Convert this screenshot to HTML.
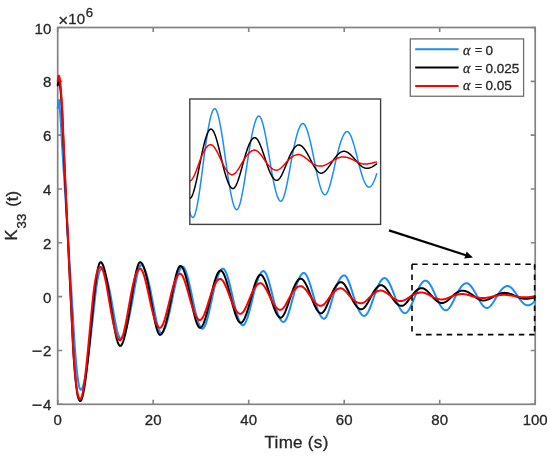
<!DOCTYPE html>
<html><head><meta charset="utf-8"><style>
html,body{margin:0;padding:0;background:#fff;}
body{width:550px;height:461px;overflow:hidden;}
svg{display:block;}
svg{font-family:"Liberation Sans",sans-serif;} text{fill:#262626;stroke:#262626;stroke-width:0.3px;}
</style></head><body>
<svg width="550" height="461" viewBox="0 0 550 461">
<rect width="550" height="461" fill="#fff"/>
<defs><clipPath id="cm"><rect x="56.2" y="27.5" width="480.50000000000006" height="376.8"/></clipPath>
<clipPath id="ci"><rect x="189.8" y="99.0" width="190.8" height="125.4"/></clipPath></defs>
<g fill="none" stroke="#838383" stroke-width="1.7">
<rect x="57.7" y="27.5" width="477.50000000000006" height="376.8"/>
<path d="M57.70,404.30V399.80M57.70,27.50V32.00M153.20,404.30V399.80M153.20,27.50V32.00M248.70,404.30V399.80M248.70,27.50V32.00M344.20,404.30V399.80M344.20,27.50V32.00M439.70,404.30V399.80M439.70,27.50V32.00M535.20,404.30V399.80M535.20,27.50V32.00M57.70,404.30H62.20M535.20,404.30H530.70M57.70,350.47H62.20M535.20,350.47H530.70M57.70,296.64H62.20M535.20,296.64H530.70M57.70,242.81H62.20M535.20,242.81H530.70M57.70,188.99H62.20M535.20,188.99H530.70M57.70,135.16H62.20M535.20,135.16H530.70M57.70,81.33H62.20M535.20,81.33H530.70M57.70,27.50H62.20M535.20,27.50H530.70" stroke-width="1.6"/>
</g>
<g fill="none" stroke-width="2" stroke-linejoin="round" stroke-linecap="round" clip-path="url(#cm)"><path d="M57.70,108.24 L57.90,106.45 L58.10,104.74 L58.29,103.21 L58.49,101.93 L58.69,100.97 L58.89,100.37 L59.08,100.17 L59.45,104.18 L59.82,108.64 L60.19,113.51 L60.56,118.72 L60.93,124.36 L61.29,130.81 L61.66,137.61 L62.03,144.18 L62.40,150.27 L62.77,156.20 L63.14,162.01 L63.50,167.73 L63.87,173.40 L64.24,179.03 L64.61,184.66 L64.98,190.31 L65.34,196.03 L65.71,201.83 L66.08,207.69 L66.45,213.58 L66.82,219.49 L67.19,225.42 L67.55,231.35 L67.92,237.26 L68.29,243.15 L68.66,249.01 L69.03,254.81 L69.40,260.57 L69.76,266.29 L70.13,271.98 L70.50,277.65 L70.87,283.34 L71.24,289.04 L71.60,294.77 L71.97,300.56 L72.34,306.45 L72.71,312.61 L73.08,318.93 L73.45,325.28 L73.81,331.52 L74.18,337.53 L74.55,343.18 L74.92,348.32 L75.29,353.03 L75.66,357.58 L76.02,361.94 L76.39,366.05 L76.76,369.85 L77.13,373.29 L77.50,376.32 L77.87,379.03 L78.23,381.59 L78.60,383.87 L78.97,385.72 L79.34,387.01 L79.71,388.02 L80.07,388.89 L80.44,389.52 L80.81,389.77 L81.53,389.39 L82.25,388.29 L82.97,386.52 L83.69,384.12 L84.41,381.13 L85.13,377.60 L85.85,373.57 L86.57,369.09 L87.29,364.21 L88.01,358.97 L88.72,353.41 L89.44,347.58 L90.16,341.53 L90.88,335.30 L91.60,328.93 L92.32,322.47 L93.04,315.97 L93.76,309.47 L94.48,303.01 L95.20,296.64 L95.49,294.13 L95.79,291.72 L96.08,289.41 L96.37,287.22 L96.66,285.13 L96.96,283.17 L97.25,281.32 L97.54,279.59 L97.84,277.98 L98.13,276.50 L98.42,275.15 L98.71,273.93 L99.01,272.84 L99.30,271.89 L99.59,271.07 L99.89,270.40 L100.18,269.88 L100.47,269.50 L100.76,269.27 L101.06,269.19 L101.54,269.26 L102.03,269.47 L102.52,269.82 L103.01,270.32 L103.49,270.95 L103.98,271.72 L104.47,272.62 L104.95,273.67 L105.44,274.85 L105.93,276.16 L106.42,277.62 L106.90,279.20 L107.39,280.92 L107.88,282.77 L108.36,284.76 L108.85,286.87 L109.34,289.12 L109.83,291.50 L110.31,294.01 L110.80,296.64 L111.29,299.41 L111.78,302.23 L112.28,305.09 L112.77,307.96 L113.26,310.83 L113.75,313.67 L114.24,316.46 L114.73,319.18 L115.23,321.81 L115.72,324.32 L116.21,326.69 L116.70,328.91 L117.19,330.95 L117.68,332.78 L118.18,334.40 L118.67,335.77 L119.16,336.87 L119.65,337.68 L120.14,338.19 L120.63,338.36 L121.26,338.23 L121.88,337.83 L122.50,337.19 L123.13,336.30 L123.75,335.18 L124.37,333.84 L125.00,332.28 L125.62,330.51 L126.24,328.55 L126.87,326.40 L127.49,324.08 L128.11,321.58 L128.74,318.93 L129.36,316.12 L129.98,313.17 L130.61,310.10 L131.23,306.89 L131.85,303.58 L132.48,300.16 L133.10,296.64 L133.50,294.35 L133.90,292.05 L134.30,289.77 L134.70,287.50 L135.10,285.28 L135.51,283.11 L135.91,281.00 L136.31,278.96 L136.71,277.02 L137.11,275.17 L137.51,273.44 L137.91,271.84 L138.31,270.38 L138.71,269.07 L139.11,267.93 L139.52,266.96 L139.92,266.19 L140.32,265.62 L140.72,265.27 L141.12,265.15 L141.65,265.25 L142.18,265.53 L142.71,266.00 L143.24,266.64 L143.76,267.45 L144.29,268.43 L144.82,269.57 L145.35,270.86 L145.88,272.31 L146.41,273.90 L146.94,275.63 L147.47,277.50 L148.00,279.49 L148.53,281.61 L149.05,283.85 L149.58,286.20 L150.11,288.66 L150.64,291.23 L151.17,293.89 L151.70,296.64 L152.18,299.21 L152.67,301.80 L153.15,304.39 L153.63,306.97 L154.12,309.51 L154.60,312.01 L155.08,314.44 L155.57,316.80 L156.05,319.05 L156.53,321.20 L157.02,323.22 L157.50,325.10 L157.98,326.81 L158.47,328.35 L158.95,329.70 L159.43,330.83 L159.92,331.75 L160.40,332.42 L160.88,332.84 L161.37,332.98 L161.94,332.85 L162.51,332.47 L163.08,331.85 L163.65,331.00 L164.22,329.94 L164.80,328.67 L165.37,327.22 L165.94,325.59 L166.51,323.79 L167.08,321.85 L167.65,319.76 L168.23,317.54 L168.80,315.20 L169.37,312.76 L169.94,310.23 L170.51,307.63 L171.08,304.95 L171.66,302.22 L172.23,299.45 L172.80,296.64 L173.28,294.28 L173.77,291.95 L174.25,289.67 L174.73,287.44 L175.22,285.28 L175.70,283.19 L176.18,281.19 L176.67,279.27 L177.15,277.46 L177.64,275.76 L178.12,274.17 L178.60,272.71 L179.09,271.40 L179.57,270.22 L180.05,269.20 L180.54,268.35 L181.02,267.67 L181.50,267.18 L181.99,266.87 L182.47,266.77 L182.95,266.87 L183.43,267.18 L183.92,267.69 L184.40,268.38 L184.88,269.24 L185.36,270.27 L185.84,271.46 L186.32,272.79 L186.80,274.26 L187.29,275.85 L187.77,277.57 L188.25,279.39 L188.73,281.30 L189.21,283.31 L189.69,285.39 L190.17,287.55 L190.66,289.76 L191.14,292.02 L191.62,294.31 L192.10,296.64 L192.62,299.15 L193.14,301.63 L193.66,304.06 L194.18,306.43 L194.69,308.74 L195.21,310.98 L195.73,313.13 L196.25,315.18 L196.77,317.13 L197.29,318.96 L197.81,320.67 L198.33,322.24 L198.85,323.66 L199.36,324.93 L199.88,326.03 L200.40,326.95 L200.92,327.69 L201.44,328.23 L201.96,328.56 L202.48,328.67 L202.97,328.55 L203.47,328.19 L203.97,327.60 L204.46,326.81 L204.96,325.82 L205.45,324.65 L205.95,323.31 L206.45,321.81 L206.94,320.17 L207.44,318.41 L207.94,316.52 L208.43,314.54 L208.93,312.47 L209.42,310.32 L209.92,308.12 L210.42,305.86 L210.91,303.57 L211.41,301.27 L211.90,298.95 L212.40,296.64 L212.92,294.25 L213.45,291.93 L213.97,289.68 L214.49,287.52 L215.02,285.45 L215.54,283.46 L216.06,281.58 L216.59,279.80 L217.11,278.13 L217.63,276.58 L218.16,275.15 L218.68,273.85 L219.20,272.67 L219.73,271.64 L220.25,270.75 L220.77,270.01 L221.30,269.42 L221.82,269.00 L222.34,268.74 L222.87,268.65 L223.35,268.75 L223.84,269.05 L224.33,269.53 L224.81,270.18 L225.30,271.00 L225.79,271.98 L226.27,273.10 L226.76,274.36 L227.25,275.74 L227.73,277.25 L228.22,278.86 L228.71,280.57 L229.19,282.37 L229.68,284.25 L230.17,286.19 L230.65,288.20 L231.14,290.26 L231.63,292.36 L232.11,294.49 L232.60,296.64 L233.11,298.91 L233.63,301.14 L234.14,303.32 L234.65,305.45 L235.17,307.52 L235.68,309.51 L236.20,311.43 L236.71,313.25 L237.22,314.98 L237.74,316.61 L238.25,318.12 L238.76,319.51 L239.28,320.77 L239.79,321.88 L240.31,322.85 L240.82,323.66 L241.33,324.31 L241.85,324.78 L242.36,325.07 L242.87,325.17 L243.38,325.06 L243.89,324.75 L244.39,324.24 L244.90,323.55 L245.41,322.68 L245.91,321.65 L246.42,320.47 L246.92,319.16 L247.43,317.71 L247.94,316.15 L248.44,314.48 L248.95,312.73 L249.46,310.88 L249.96,308.97 L250.47,307.00 L250.97,304.98 L251.48,302.92 L251.99,300.84 L252.49,298.74 L253.00,296.64 L253.52,294.51 L254.04,292.43 L254.56,290.42 L255.08,288.47 L255.60,286.59 L256.12,284.78 L256.64,283.06 L257.16,281.43 L257.68,279.90 L258.20,278.47 L258.72,277.15 L259.24,275.94 L259.76,274.85 L260.28,273.88 L260.81,273.05 L261.33,272.35 L261.85,271.80 L262.37,271.40 L262.89,271.16 L263.41,271.07 L263.88,271.17 L264.35,271.45 L264.82,271.91 L265.29,272.53 L265.76,273.30 L266.22,274.22 L266.69,275.28 L267.16,276.46 L267.63,277.75 L268.10,279.15 L268.57,280.64 L269.04,282.22 L269.51,283.87 L269.98,285.58 L270.45,287.35 L270.92,289.16 L271.39,291.01 L271.86,292.88 L272.33,294.76 L272.80,296.64 L273.33,298.75 L273.86,300.80 L274.39,302.79 L274.92,304.72 L275.45,306.58 L275.98,308.36 L276.51,310.06 L277.05,311.68 L277.58,313.20 L278.11,314.61 L278.64,315.92 L279.17,317.12 L279.70,318.20 L280.23,319.16 L280.76,319.98 L281.29,320.67 L281.82,321.22 L282.35,321.62 L282.88,321.86 L283.41,321.94 L283.90,321.85 L284.39,321.57 L284.88,321.11 L285.37,320.50 L285.86,319.73 L286.35,318.81 L286.84,317.76 L287.33,316.59 L287.82,315.31 L288.31,313.92 L288.80,312.44 L289.29,310.88 L289.77,309.25 L290.26,307.55 L290.75,305.80 L291.24,304.01 L291.73,302.19 L292.22,300.35 L292.71,298.50 L293.20,296.64 L293.73,294.66 L294.26,292.73 L294.79,290.85 L295.32,289.04 L295.85,287.30 L296.38,285.63 L296.91,284.04 L297.44,282.53 L297.97,281.11 L298.50,279.78 L299.03,278.56 L299.56,277.44 L300.09,276.44 L300.62,275.55 L301.15,274.78 L301.68,274.14 L302.21,273.63 L302.74,273.26 L303.27,273.03 L303.80,272.96 L304.30,273.05 L304.79,273.30 L305.29,273.72 L305.78,274.29 L306.28,275.01 L306.77,275.85 L307.27,276.82 L307.76,277.91 L308.26,279.10 L308.75,280.39 L309.25,281.77 L309.74,283.23 L310.24,284.76 L310.73,286.34 L311.23,287.98 L311.72,289.67 L312.22,291.38 L312.71,293.12 L313.21,294.88 L313.70,296.64 L314.22,298.46 L314.73,300.23 L315.25,301.96 L315.76,303.64 L316.28,305.25 L316.79,306.80 L317.31,308.29 L317.82,309.70 L318.34,311.02 L318.85,312.26 L319.37,313.41 L319.88,314.47 L320.40,315.42 L320.91,316.26 L321.43,316.98 L321.94,317.59 L322.46,318.07 L322.97,318.42 L323.49,318.64 L324.00,318.71 L324.45,318.63 L324.90,318.37 L325.35,317.96 L325.80,317.40 L326.25,316.71 L326.70,315.88 L327.15,314.94 L327.60,313.90 L328.05,312.75 L328.50,311.52 L328.95,310.21 L329.40,308.84 L329.85,307.41 L330.30,305.93 L330.75,304.42 L331.20,302.87 L331.65,301.32 L332.10,299.75 L332.55,298.19 L333.00,296.64 L333.56,294.76 L334.12,292.95 L334.68,291.20 L335.24,289.53 L335.80,287.94 L336.36,286.42 L336.92,284.99 L337.48,283.65 L338.04,282.39 L338.60,281.23 L339.16,280.16 L339.72,279.19 L340.28,278.32 L340.84,277.56 L341.40,276.91 L341.96,276.37 L342.52,275.94 L343.08,275.63 L343.64,275.44 L344.20,275.38 L344.68,275.46 L345.15,275.70 L345.62,276.09 L346.10,276.62 L346.58,277.28 L347.05,278.06 L347.53,278.96 L348.00,279.96 L348.48,281.05 L348.95,282.22 L349.43,283.48 L349.90,284.79 L350.38,286.17 L350.85,287.60 L351.33,289.06 L351.80,290.55 L352.28,292.07 L352.75,293.59 L353.22,295.12 L353.70,296.64 L354.23,298.30 L354.76,299.91 L355.28,301.46 L355.81,302.95 L356.34,304.38 L356.87,305.75 L357.39,307.04 L357.92,308.26 L358.45,309.41 L358.98,310.47 L359.51,311.45 L360.03,312.34 L360.56,313.15 L361.09,313.85 L361.62,314.46 L362.14,314.96 L362.67,315.36 L363.20,315.65 L363.73,315.83 L364.26,315.89 L364.74,315.82 L365.23,315.61 L365.72,315.27 L366.21,314.80 L366.70,314.22 L367.19,313.54 L367.67,312.75 L368.16,311.86 L368.65,310.89 L369.14,309.85 L369.63,308.73 L370.12,307.54 L370.61,306.30 L371.09,305.01 L371.58,303.68 L372.07,302.31 L372.56,300.92 L373.05,299.50 L373.54,298.08 L374.02,296.64 L374.55,295.12 L375.08,293.62 L375.60,292.17 L376.13,290.76 L376.66,289.40 L377.18,288.09 L377.71,286.85 L378.23,285.66 L378.76,284.54 L379.29,283.50 L379.81,282.53 L380.34,281.65 L380.87,280.85 L381.39,280.14 L381.92,279.53 L382.44,279.02 L382.97,278.61 L383.50,278.31 L384.02,278.13 L384.55,278.07 L385.07,278.14 L385.59,278.34 L386.11,278.66 L386.62,279.11 L387.14,279.66 L387.66,280.32 L388.18,281.07 L388.70,281.92 L389.22,282.84 L389.74,283.85 L390.26,284.93 L390.78,286.07 L391.29,287.26 L391.81,288.51 L392.33,289.80 L392.85,291.12 L393.37,292.47 L393.89,293.85 L394.41,295.24 L394.93,296.64 L395.43,297.98 L395.93,299.30 L396.43,300.58 L396.93,301.83 L397.43,303.04 L397.93,304.20 L398.43,305.31 L398.93,306.37 L399.43,307.37 L399.93,308.30 L400.43,309.17 L400.93,309.97 L401.43,310.69 L401.93,311.33 L402.44,311.88 L402.94,312.34 L403.44,312.71 L403.94,312.98 L404.44,313.14 L404.94,313.20 L405.44,313.13 L405.93,312.95 L406.43,312.66 L406.93,312.27 L407.43,311.77 L407.93,311.18 L408.42,310.51 L408.92,309.75 L409.42,308.92 L409.92,308.02 L410.42,307.06 L410.92,306.04 L411.41,304.97 L411.91,303.86 L412.41,302.72 L412.91,301.54 L413.41,300.34 L413.90,299.12 L414.40,297.88 L414.90,296.64 L415.43,295.33 L415.96,294.05 L416.49,292.81 L417.02,291.59 L417.55,290.42 L418.09,289.30 L418.62,288.22 L419.15,287.20 L419.68,286.23 L420.21,285.33 L420.74,284.49 L421.27,283.73 L421.80,283.04 L422.33,282.42 L422.86,281.89 L423.39,281.45 L423.93,281.10 L424.46,280.84 L424.99,280.68 L425.52,280.63 L426.04,280.69 L426.57,280.86 L427.09,281.15 L427.61,281.53 L428.14,282.01 L428.66,282.58 L429.18,283.24 L429.71,283.97 L430.23,284.78 L430.75,285.65 L431.28,286.58 L431.80,287.57 L432.32,288.60 L432.85,289.68 L433.37,290.78 L433.89,291.92 L434.42,293.08 L434.94,294.26 L435.46,295.45 L435.99,296.64 L436.48,297.76 L436.98,298.86 L437.48,299.92 L437.97,300.95 L438.47,301.95 L438.96,302.91 L439.46,303.82 L439.96,304.69 L440.45,305.51 L440.95,306.28 L441.44,306.99 L441.94,307.64 L442.44,308.22 L442.93,308.74 L443.43,309.19 L443.92,309.57 L444.42,309.87 L444.92,310.08 L445.41,310.22 L445.91,310.26 L446.39,310.21 L446.87,310.06 L447.35,309.82 L447.83,309.48 L448.30,309.07 L448.78,308.58 L449.26,308.01 L449.74,307.38 L450.22,306.69 L450.70,305.95 L451.18,305.15 L451.66,304.31 L452.14,303.43 L452.62,302.52 L453.10,301.58 L453.58,300.61 L454.06,299.63 L454.54,298.64 L455.02,297.64 L455.50,296.64 L456.04,295.52 L456.59,294.43 L457.13,293.37 L457.68,292.35 L458.22,291.36 L458.77,290.41 L459.31,289.51 L459.85,288.66 L460.40,287.86 L460.94,287.11 L461.49,286.41 L462.03,285.78 L462.58,285.21 L463.12,284.71 L463.67,284.27 L464.21,283.91 L464.76,283.62 L465.30,283.41 L465.85,283.28 L466.39,283.24 L466.94,283.29 L467.49,283.43 L468.03,283.66 L468.58,283.97 L469.13,284.36 L469.67,284.83 L470.22,285.36 L470.77,285.97 L471.31,286.63 L471.86,287.35 L472.41,288.12 L472.95,288.94 L473.50,289.80 L474.05,290.70 L474.59,291.63 L475.14,292.59 L475.69,293.58 L476.23,294.59 L476.78,295.61 L477.33,296.64 L477.81,297.54 L478.28,298.43 L478.76,299.30 L479.24,300.14 L479.72,300.96 L480.19,301.76 L480.67,302.52 L481.15,303.25 L481.62,303.94 L482.10,304.59 L482.58,305.19 L483.06,305.74 L483.53,306.24 L484.01,306.69 L484.49,307.08 L484.97,307.40 L485.44,307.66 L485.92,307.85 L486.40,307.96 L486.88,308.00 L487.37,307.96 L487.86,307.83 L488.36,307.63 L488.85,307.35 L489.34,307.00 L489.84,306.59 L490.33,306.12 L490.82,305.59 L491.32,305.01 L491.81,304.39 L492.30,303.72 L492.80,303.02 L493.29,302.28 L493.78,301.52 L494.28,300.74 L494.77,299.94 L495.26,299.12 L495.76,298.30 L496.25,297.47 L496.74,296.64 L497.29,295.75 L497.83,294.87 L498.37,294.03 L498.91,293.21 L499.46,292.43 L500.00,291.68 L500.54,290.96 L501.09,290.28 L501.63,289.65 L502.17,289.06 L502.71,288.51 L503.26,288.01 L503.80,287.56 L504.34,287.16 L504.89,286.82 L505.43,286.54 L505.97,286.31 L506.51,286.15 L507.06,286.05 L507.60,286.01 L508.12,286.05 L508.64,286.17 L509.16,286.36 L509.68,286.62 L510.20,286.94 L510.73,287.32 L511.25,287.76 L511.77,288.26 L512.29,288.79 L512.81,289.38 L513.33,290.00 L513.85,290.65 L514.37,291.34 L514.89,292.05 L515.41,292.79 L515.93,293.54 L516.45,294.31 L516.98,295.08 L517.50,295.86 L518.02,296.64 L518.51,297.37 L519.00,298.08 L519.49,298.77 L519.98,299.43 L520.47,300.08 L520.97,300.69 L521.46,301.28 L521.95,301.83 L522.44,302.36 L522.93,302.84 L523.42,303.30 L523.91,303.71 L524.41,304.08 L524.90,304.41 L525.39,304.69 L525.88,304.93 L526.37,305.11 L526.86,305.25 L527.36,305.33 L527.85,305.36 L528.23,305.35 L528.62,305.30 L529.01,305.23 L529.39,305.13 L529.78,304.99 L530.17,304.83 L530.56,304.64 L530.94,304.43 L531.33,304.19 L531.72,303.92 L532.10,303.63 L532.49,303.31 L532.88,302.97 L533.26,302.61 L533.65,302.23 L534.04,301.84 L534.43,301.42 L534.81,300.99 L535.20,300.55" stroke="#1c8cf6"/><path d="M57.70,85.37 L57.87,84.23 L58.04,83.15 L58.21,82.18 L58.38,81.37 L58.55,80.76 L58.72,80.38 L58.89,80.25 L59.25,80.81 L59.62,82.41 L59.98,84.91 L60.34,88.18 L60.70,92.08 L61.06,96.49 L61.42,101.28 L61.78,106.30 L62.14,111.72 L62.50,119.60 L62.86,128.73 L63.23,137.24 L63.59,145.47 L63.95,153.72 L64.31,161.97 L64.67,170.18 L65.03,178.32 L65.39,186.37 L65.75,194.30 L66.11,202.09 L66.47,209.76 L66.83,217.35 L67.20,224.88 L67.56,232.39 L67.92,239.90 L68.28,247.45 L68.64,255.05 L69.00,262.67 L69.36,270.31 L69.72,277.93 L70.08,285.50 L70.44,293.02 L70.81,300.44 L71.17,307.85 L71.53,315.50 L71.89,323.24 L72.25,330.90 L72.61,338.32 L72.97,345.33 L73.33,351.75 L73.69,357.41 L74.05,362.50 L74.41,367.28 L74.78,371.73 L75.14,375.81 L75.50,379.52 L75.86,382.82 L76.22,385.81 L76.58,388.71 L76.94,391.40 L77.30,393.77 L77.66,395.72 L78.02,397.12 L78.39,398.12 L78.75,399.05 L79.11,399.86 L79.47,400.50 L79.83,400.92 L80.19,401.07 L80.89,400.64 L81.58,399.40 L82.28,397.40 L82.97,394.68 L83.67,391.30 L84.36,387.31 L85.06,382.77 L85.75,377.72 L86.45,372.22 L87.15,366.32 L87.84,360.06 L88.54,353.51 L89.23,346.72 L89.93,339.73 L90.62,332.60 L91.32,325.38 L92.01,318.12 L92.71,310.88 L93.40,303.70 L94.10,296.64 L94.43,293.44 L94.75,290.37 L95.08,287.45 L95.41,284.67 L95.73,282.04 L96.06,279.57 L96.38,277.24 L96.71,275.08 L97.04,273.07 L97.36,271.22 L97.69,269.54 L98.02,268.03 L98.34,266.68 L98.67,265.50 L99.00,264.50 L99.32,263.68 L99.65,263.03 L99.97,262.57 L100.30,262.29 L100.63,262.19 L101.07,262.30 L101.51,262.63 L101.96,263.15 L102.40,263.88 L102.85,264.80 L103.29,265.91 L103.73,267.19 L104.18,268.64 L104.62,270.26 L105.06,272.03 L105.51,273.95 L105.95,276.00 L106.39,278.19 L106.84,280.51 L107.28,282.95 L107.73,285.49 L108.17,288.14 L108.61,290.89 L109.06,293.73 L109.50,296.64 L110.04,300.22 L110.57,303.80 L111.11,307.37 L111.64,310.90 L112.18,314.37 L112.71,317.77 L113.25,321.07 L113.78,324.25 L114.32,327.30 L114.85,330.19 L115.39,332.90 L115.92,335.41 L116.46,337.70 L116.99,339.75 L117.53,341.54 L118.06,343.06 L118.60,344.27 L119.13,345.16 L119.67,345.71 L120.20,345.90 L120.78,345.72 L121.36,345.20 L121.94,344.36 L122.52,343.21 L123.10,341.76 L123.68,340.04 L124.26,338.07 L124.84,335.85 L125.42,333.41 L126.00,330.77 L126.58,327.93 L127.16,324.92 L127.74,321.76 L128.32,318.45 L128.90,315.02 L129.48,311.49 L130.06,307.87 L130.64,304.18 L131.22,300.43 L131.80,296.64 L132.22,293.91 L132.64,291.21 L133.06,288.58 L133.48,286.00 L133.90,283.51 L134.32,281.10 L134.74,278.79 L135.16,276.58 L135.59,274.49 L136.01,272.53 L136.43,270.70 L136.85,269.03 L137.27,267.51 L137.69,266.16 L138.11,264.99 L138.53,264.01 L138.95,263.23 L139.37,262.66 L139.79,262.31 L140.21,262.19 L140.72,262.30 L141.23,262.63 L141.74,263.16 L142.25,263.90 L142.76,264.83 L143.27,265.94 L143.78,267.23 L144.29,268.69 L144.80,270.31 L145.31,272.08 L145.82,274.01 L146.32,276.07 L146.83,278.26 L147.34,280.58 L147.85,283.01 L148.36,285.55 L148.87,288.19 L149.38,290.93 L149.89,293.75 L150.40,296.64 L150.88,299.43 L151.37,302.23 L151.85,305.00 L152.34,307.75 L152.82,310.45 L153.30,313.09 L153.79,315.65 L154.27,318.12 L154.75,320.48 L155.24,322.72 L155.72,324.81 L156.21,326.76 L156.69,328.53 L157.17,330.12 L157.66,331.50 L158.14,332.67 L158.62,333.60 L159.11,334.29 L159.59,334.72 L160.08,334.86 L160.65,334.73 L161.23,334.34 L161.80,333.71 L162.38,332.85 L162.96,331.76 L163.53,330.47 L164.11,328.98 L164.69,327.30 L165.26,325.44 L165.84,323.42 L166.41,321.25 L166.99,318.93 L167.57,316.48 L168.14,313.92 L168.72,311.24 L169.30,308.47 L169.87,305.61 L170.45,302.68 L171.02,299.69 L171.60,296.64 L172.04,294.29 L172.49,291.96 L172.93,289.66 L173.37,287.41 L173.82,285.21 L174.26,283.08 L174.70,281.02 L175.15,279.05 L175.59,277.17 L176.03,275.40 L176.48,273.75 L176.92,272.23 L177.36,270.85 L177.81,269.62 L178.25,268.54 L178.69,267.64 L179.14,266.92 L179.58,266.39 L180.02,266.07 L180.47,265.96 L180.96,266.07 L181.46,266.38 L181.96,266.88 L182.45,267.58 L182.95,268.45 L183.45,269.49 L183.94,270.68 L184.44,272.03 L184.94,273.52 L185.43,275.15 L185.93,276.89 L186.43,278.75 L186.92,280.72 L187.42,282.78 L187.92,284.92 L188.41,287.15 L188.91,289.44 L189.41,291.80 L189.90,294.20 L190.40,296.64 L190.88,299.04 L191.37,301.41 L191.85,303.74 L192.34,306.04 L192.82,308.27 L193.31,310.45 L193.79,312.54 L194.28,314.55 L194.76,316.46 L195.25,318.26 L195.73,319.94 L196.21,321.48 L196.70,322.89 L197.18,324.15 L197.67,325.24 L198.15,326.15 L198.64,326.89 L199.12,327.42 L199.61,327.75 L200.09,327.86 L200.63,327.75 L201.16,327.41 L201.70,326.87 L202.23,326.12 L202.77,325.19 L203.30,324.08 L203.84,322.81 L204.37,321.38 L204.91,319.82 L205.45,318.13 L205.98,316.32 L206.52,314.40 L207.05,312.39 L207.59,310.29 L208.12,308.13 L208.66,305.90 L209.19,303.63 L209.73,301.32 L210.26,298.99 L210.80,296.64 L211.29,294.52 L211.78,292.44 L212.27,290.41 L212.76,288.44 L213.24,286.53 L213.73,284.70 L214.22,282.95 L214.71,281.28 L215.20,279.70 L215.69,278.23 L216.18,276.86 L216.67,275.61 L217.15,274.48 L217.64,273.47 L218.13,272.60 L218.62,271.88 L219.11,271.30 L219.60,270.88 L220.09,270.62 L220.58,270.54 L221.08,270.63 L221.58,270.90 L222.08,271.34 L222.58,271.95 L223.08,272.70 L223.58,273.60 L224.08,274.64 L224.59,275.81 L225.09,277.09 L225.59,278.49 L226.09,279.99 L226.59,281.58 L227.09,283.25 L227.59,285.01 L228.09,286.83 L228.60,288.70 L229.10,290.63 L229.60,292.61 L230.10,294.61 L230.60,296.64 L231.11,298.69 L231.61,300.71 L232.12,302.70 L232.63,304.63 L233.13,306.52 L233.64,308.34 L234.14,310.09 L234.65,311.77 L235.16,313.36 L235.66,314.85 L236.17,316.24 L236.68,317.52 L237.18,318.68 L237.69,319.71 L238.19,320.60 L238.70,321.35 L239.21,321.95 L239.71,322.39 L240.22,322.66 L240.73,322.75 L241.26,322.66 L241.79,322.38 L242.33,321.94 L242.86,321.33 L243.39,320.57 L243.93,319.67 L244.46,318.63 L245.00,317.46 L245.53,316.17 L246.06,314.77 L246.60,313.27 L247.13,311.68 L247.66,310.00 L248.20,308.25 L248.73,306.43 L249.27,304.55 L249.80,302.63 L250.33,300.66 L250.87,298.66 L251.40,296.64 L251.85,294.92 L252.31,293.23 L252.76,291.57 L253.22,289.95 L253.67,288.37 L254.13,286.85 L254.58,285.39 L255.04,283.99 L255.49,282.66 L255.95,281.42 L256.40,280.26 L256.86,279.20 L257.31,278.23 L257.77,277.37 L258.22,276.63 L258.68,276.00 L259.13,275.51 L259.58,275.14 L260.04,274.92 L260.49,274.84 L260.99,274.92 L261.48,275.15 L261.98,275.53 L262.48,276.05 L262.97,276.70 L263.47,277.46 L263.96,278.35 L264.46,279.33 L264.95,280.42 L265.45,281.60 L265.94,282.86 L266.44,284.20 L266.93,285.60 L267.43,287.06 L267.92,288.58 L268.42,290.13 L268.91,291.73 L269.41,293.35 L269.90,294.99 L270.40,296.64 L270.91,298.33 L271.42,299.99 L271.93,301.62 L272.44,303.19 L272.95,304.72 L273.46,306.19 L273.97,307.60 L274.48,308.94 L274.99,310.21 L275.50,311.40 L276.01,312.51 L276.52,313.52 L277.03,314.44 L277.54,315.25 L278.05,315.95 L278.56,316.54 L279.07,317.01 L279.58,317.36 L280.09,317.56 L280.60,317.64 L281.10,317.56 L281.60,317.32 L282.10,316.95 L282.60,316.43 L283.10,315.79 L283.60,315.03 L284.10,314.16 L284.60,313.19 L285.10,312.12 L285.60,310.97 L286.10,309.74 L286.60,308.45 L287.10,307.09 L287.60,305.68 L288.10,304.23 L288.60,302.75 L289.10,301.24 L289.60,299.71 L290.10,298.18 L290.60,296.64 L291.10,295.13 L291.60,293.66 L292.10,292.23 L292.60,290.84 L293.10,289.51 L293.60,288.24 L294.10,287.03 L294.60,285.88 L295.10,284.80 L295.60,283.79 L296.10,282.86 L296.60,282.02 L297.10,281.25 L297.60,280.57 L298.10,279.99 L298.60,279.50 L299.10,279.12 L299.60,278.84 L300.10,278.67 L300.60,278.61 L301.13,278.67 L301.65,278.86 L302.18,279.17 L302.70,279.59 L303.23,280.11 L303.75,280.74 L304.28,281.46 L304.80,282.26 L305.33,283.15 L305.85,284.12 L306.38,285.15 L306.90,286.25 L307.43,287.41 L307.95,288.62 L308.48,289.88 L309.00,291.17 L309.53,292.51 L310.05,293.86 L310.58,295.25 L311.10,296.64 L311.59,297.96 L312.09,299.25 L312.58,300.52 L313.08,301.76 L313.57,302.97 L314.07,304.14 L314.56,305.26 L315.06,306.33 L315.55,307.34 L316.05,308.29 L316.54,309.18 L317.04,310.00 L317.53,310.73 L318.03,311.39 L318.52,311.96 L319.01,312.44 L319.51,312.82 L320.00,313.10 L320.50,313.27 L320.99,313.33 L321.47,313.26 L321.95,313.08 L322.43,312.77 L322.91,312.35 L323.40,311.83 L323.88,311.22 L324.36,310.51 L324.84,309.73 L325.32,308.87 L325.80,307.94 L326.28,306.96 L326.76,305.92 L327.24,304.84 L327.72,303.72 L328.20,302.58 L328.68,301.41 L329.16,300.22 L329.64,299.03 L330.12,297.83 L330.60,296.64 L331.12,295.38 L331.64,294.16 L332.16,292.99 L332.68,291.85 L333.20,290.77 L333.72,289.74 L334.24,288.76 L334.76,287.84 L335.28,286.98 L335.80,286.18 L336.32,285.44 L336.84,284.77 L337.36,284.17 L337.88,283.64 L338.40,283.18 L338.92,282.80 L339.44,282.50 L339.96,282.29 L340.48,282.15 L341.00,282.11 L341.50,282.16 L341.99,282.33 L342.49,282.59 L342.98,282.95 L343.48,283.40 L343.97,283.93 L344.47,284.54 L344.96,285.22 L345.46,285.96 L345.95,286.77 L346.45,287.62 L346.94,288.52 L347.44,289.46 L347.93,290.43 L348.43,291.44 L348.92,292.46 L349.42,293.50 L349.91,294.54 L350.41,295.60 L350.90,296.64 L351.42,297.72 L351.94,298.77 L352.46,299.79 L352.98,300.76 L353.50,301.70 L354.02,302.60 L354.54,303.45 L355.06,304.25 L355.58,305.01 L356.10,305.71 L356.62,306.35 L357.14,306.94 L357.66,307.47 L358.18,307.94 L358.70,308.34 L359.22,308.68 L359.74,308.94 L360.26,309.14 L360.77,309.25 L361.29,309.29 L361.78,309.25 L362.27,309.11 L362.76,308.88 L363.25,308.58 L363.73,308.19 L364.22,307.74 L364.71,307.22 L365.20,306.64 L365.69,306.00 L366.17,305.31 L366.66,304.57 L367.15,303.79 L367.64,302.98 L368.12,302.13 L368.61,301.25 L369.10,300.36 L369.59,299.44 L370.08,298.51 L370.56,297.58 L371.05,296.64 L371.55,295.69 L372.05,294.76 L372.55,293.86 L373.05,292.99 L373.55,292.14 L374.05,291.34 L374.56,290.56 L375.06,289.83 L375.56,289.14 L376.06,288.49 L376.56,287.90 L377.06,287.35 L377.56,286.86 L378.06,286.42 L378.56,286.05 L379.06,285.73 L379.56,285.48 L380.06,285.30 L380.56,285.19 L381.06,285.15 L381.58,285.19 L382.11,285.32 L382.63,285.53 L383.15,285.81 L383.67,286.17 L384.19,286.59 L384.71,287.07 L385.23,287.60 L385.75,288.19 L386.28,288.82 L386.80,289.50 L387.32,290.21 L387.84,290.95 L388.36,291.72 L388.88,292.51 L389.40,293.32 L389.93,294.15 L390.45,294.98 L390.97,295.81 L391.49,296.64 L391.99,297.43 L392.49,298.18 L392.98,298.92 L393.48,299.63 L393.98,300.31 L394.48,300.96 L394.98,301.58 L395.47,302.17 L395.97,302.72 L396.47,303.23 L396.97,303.70 L397.47,304.13 L397.97,304.52 L398.46,304.86 L398.96,305.15 L399.46,305.40 L399.96,305.59 L400.46,305.73 L400.95,305.82 L401.45,305.85 L401.94,305.81 L402.43,305.71 L402.91,305.54 L403.40,305.32 L403.89,305.04 L404.37,304.70 L404.86,304.32 L405.34,303.90 L405.83,303.43 L406.32,302.92 L406.80,302.38 L407.29,301.81 L407.78,301.22 L408.26,300.60 L408.75,299.97 L409.24,299.32 L409.72,298.66 L410.21,297.99 L410.70,297.31 L411.18,296.64 L411.71,295.93 L412.24,295.23 L412.76,294.56 L413.29,293.90 L413.81,293.28 L414.34,292.68 L414.86,292.10 L415.39,291.56 L415.92,291.05 L416.44,290.58 L416.97,290.14 L417.49,289.74 L418.02,289.38 L418.54,289.06 L419.07,288.79 L419.60,288.56 L420.12,288.38 L420.65,288.25 L421.17,288.17 L421.70,288.14 L422.23,288.17 L422.76,288.27 L423.30,288.42 L423.83,288.63 L424.36,288.90 L424.90,289.21 L425.43,289.56 L425.96,289.96 L426.50,290.40 L427.03,290.87 L427.56,291.37 L428.10,291.90 L428.63,292.45 L429.16,293.02 L429.70,293.60 L430.23,294.20 L430.76,294.81 L431.30,295.42 L431.83,296.03 L432.36,296.64 L432.85,297.19 L433.33,297.72 L433.82,298.23 L434.30,298.72 L434.78,299.19 L435.27,299.64 L435.75,300.07 L436.23,300.47 L436.72,300.85 L437.20,301.20 L437.69,301.52 L438.17,301.82 L438.65,302.08 L439.14,302.32 L439.62,302.52 L440.10,302.69 L440.59,302.82 L441.07,302.92 L441.56,302.97 L442.04,302.99 L442.53,302.97 L443.02,302.90 L443.51,302.79 L444.01,302.63 L444.50,302.44 L444.99,302.21 L445.48,301.94 L445.97,301.65 L446.46,301.33 L446.96,300.98 L447.45,300.61 L447.94,300.22 L448.43,299.81 L448.92,299.38 L449.42,298.94 L449.91,298.49 L450.40,298.03 L450.89,297.57 L451.38,297.11 L451.87,296.64 L452.41,296.14 L452.95,295.65 L453.49,295.18 L454.02,294.72 L454.56,294.28 L455.10,293.86 L455.63,293.46 L456.17,293.08 L456.71,292.72 L457.25,292.39 L457.78,292.08 L458.32,291.80 L458.86,291.54 L459.40,291.32 L459.93,291.13 L460.47,290.96 L461.01,290.84 L461.55,290.74 L462.08,290.69 L462.62,290.67 L463.23,290.69 L463.83,290.75 L464.44,290.86 L465.04,291.00 L465.65,291.18 L466.25,291.40 L466.86,291.64 L467.46,291.91 L468.07,292.21 L468.67,292.54 L469.28,292.89 L469.88,293.25 L470.49,293.64 L471.09,294.04 L471.70,294.45 L472.31,294.88 L472.91,295.31 L473.52,295.75 L474.12,296.20 L474.73,296.64 L475.16,296.96 L475.59,297.27 L476.02,297.57 L476.45,297.86 L476.88,298.14 L477.31,298.41 L477.74,298.67 L478.17,298.91 L478.60,299.15 L479.04,299.36 L479.47,299.56 L479.90,299.75 L480.33,299.91 L480.76,300.06 L481.19,300.19 L481.62,300.29 L482.05,300.38 L482.48,300.44 L482.91,300.48 L483.34,300.49 L483.85,300.48 L484.36,300.44 L484.87,300.37 L485.37,300.28 L485.88,300.16 L486.39,300.02 L486.90,299.86 L487.40,299.69 L487.91,299.49 L488.42,299.28 L488.93,299.06 L489.43,298.82 L489.94,298.58 L490.45,298.32 L490.95,298.05 L491.46,297.78 L491.97,297.50 L492.48,297.22 L492.98,296.93 L493.49,296.64 L494.04,296.33 L494.60,296.03 L495.15,295.74 L495.70,295.45 L496.26,295.18 L496.81,294.91 L497.36,294.66 L497.91,294.42 L498.47,294.19 L499.02,293.98 L499.57,293.78 L500.12,293.60 L500.68,293.44 L501.23,293.29 L501.78,293.17 L502.33,293.07 L502.89,292.98 L503.44,292.92 L503.99,292.89 L504.54,292.87 L505.17,292.89 L505.79,292.93 L506.41,293.00 L507.03,293.10 L507.66,293.21 L508.28,293.35 L508.90,293.51 L509.52,293.69 L510.15,293.88 L510.77,294.09 L511.39,294.31 L512.02,294.54 L512.64,294.79 L513.26,295.04 L513.88,295.30 L514.51,295.56 L515.13,295.83 L515.75,296.10 L516.37,296.37 L517.00,296.64 L517.43,296.83 L517.87,297.01 L518.31,297.18 L518.75,297.35 L519.18,297.51 L519.62,297.66 L520.06,297.81 L520.50,297.94 L520.93,298.07 L521.37,298.19 L521.81,298.30 L522.25,298.40 L522.68,298.49 L523.12,298.57 L523.56,298.64 L524.00,298.69 L524.43,298.74 L524.87,298.77 L525.31,298.79 L525.75,298.80 L526.24,298.79 L526.74,298.77 L527.24,298.75 L527.74,298.71 L528.23,298.67 L528.73,298.61 L529.23,298.54 L529.73,298.47 L530.22,298.38 L530.72,298.29 L531.22,298.19 L531.72,298.08 L532.21,297.97 L532.71,297.85 L533.21,297.72 L533.71,297.59 L534.20,297.46 L534.70,297.32 L535.20,297.18" stroke="#000000"/><path d="M57.70,81.33 L57.87,80.07 L58.04,78.88 L58.21,77.80 L58.38,76.91 L58.55,76.24 L58.72,75.82 L58.89,75.68 L59.25,76.24 L59.62,77.85 L59.98,80.37 L60.34,83.67 L60.70,87.61 L61.06,92.05 L61.42,96.88 L61.78,101.94 L62.14,107.40 L62.50,115.35 L62.86,124.56 L63.23,133.14 L63.59,141.44 L63.95,149.76 L64.31,158.08 L64.67,166.36 L65.03,174.57 L65.39,182.69 L65.75,190.68 L66.11,198.54 L66.47,206.27 L66.83,213.93 L67.20,221.52 L67.56,229.09 L67.92,236.67 L68.28,244.28 L68.64,251.94 L69.00,259.63 L69.36,267.33 L69.72,275.01 L70.08,282.65 L70.44,290.22 L70.81,297.71 L71.17,305.18 L71.53,312.89 L71.89,320.70 L72.25,328.43 L72.61,335.91 L72.97,342.97 L73.33,349.45 L73.69,355.16 L74.05,360.29 L74.41,365.11 L74.78,369.60 L75.14,373.72 L75.50,377.46 L75.86,380.78 L76.22,383.80 L76.58,386.72 L76.94,389.44 L77.30,391.83 L77.66,393.79 L78.02,395.20 L78.39,396.21 L78.75,397.15 L79.11,397.97 L79.47,398.61 L79.83,399.03 L80.19,399.19 L80.84,398.73 L81.48,397.40 L82.13,395.26 L82.77,392.38 L83.42,388.81 L84.06,384.62 L84.71,379.88 L85.35,374.65 L86.00,368.99 L86.65,362.97 L87.29,356.64 L87.94,350.08 L88.58,343.34 L89.23,336.49 L89.87,329.60 L90.52,322.72 L91.16,315.92 L91.81,309.27 L92.45,302.82 L93.10,296.64 L93.48,293.26 L93.85,290.13 L94.23,287.24 L94.61,284.58 L94.98,282.14 L95.36,279.93 L95.73,277.92 L96.11,276.11 L96.49,274.50 L96.86,273.06 L97.24,271.81 L97.62,270.72 L97.99,269.79 L98.37,269.01 L98.75,268.37 L99.12,267.87 L99.50,267.49 L99.87,267.23 L100.25,267.09 L100.63,267.04 L101.02,267.14 L101.41,267.44 L101.81,267.94 L102.20,268.62 L102.60,269.47 L102.99,270.48 L103.38,271.65 L103.78,272.96 L104.17,274.41 L104.56,275.98 L104.96,277.67 L105.35,279.47 L105.74,281.37 L106.14,283.36 L106.53,285.43 L106.93,287.57 L107.32,289.77 L107.71,292.02 L108.11,294.31 L108.50,296.64 L109.07,300.03 L109.64,303.37 L110.21,306.66 L110.78,309.88 L111.35,313.01 L111.93,316.05 L112.50,318.98 L113.07,321.78 L113.64,324.44 L114.21,326.94 L114.78,329.27 L115.35,331.42 L115.92,333.37 L116.49,335.11 L117.06,336.62 L117.63,337.88 L118.21,338.90 L118.78,339.63 L119.35,340.09 L119.92,340.24 L120.45,340.07 L120.99,339.56 L121.52,338.73 L122.05,337.60 L122.59,336.20 L123.12,334.55 L123.66,332.67 L124.19,330.58 L124.73,328.29 L125.26,325.84 L125.79,323.24 L126.33,320.51 L126.86,317.68 L127.40,314.76 L127.93,311.78 L128.46,308.75 L129.00,305.70 L129.53,302.66 L130.07,299.63 L130.60,296.64 L131.07,294.09 L131.54,291.63 L132.01,289.29 L132.48,287.05 L132.96,284.93 L133.43,282.93 L133.90,281.04 L134.37,279.28 L134.84,277.64 L135.31,276.12 L135.78,274.74 L136.25,273.49 L136.72,272.38 L137.19,271.41 L137.67,270.58 L138.14,269.89 L138.61,269.35 L139.08,268.97 L139.55,268.73 L140.02,268.65 L140.47,268.75 L140.93,269.05 L141.38,269.54 L141.84,270.20 L142.29,271.02 L142.74,272.01 L143.20,273.14 L143.65,274.40 L144.11,275.80 L144.56,277.31 L145.01,278.92 L145.47,280.64 L145.92,282.44 L146.38,284.32 L146.83,286.26 L147.28,288.26 L147.74,290.31 L148.19,292.40 L148.65,294.51 L149.10,296.64 L149.64,299.15 L150.17,301.61 L150.71,304.01 L151.25,306.36 L151.78,308.63 L152.32,310.81 L152.86,312.91 L153.39,314.91 L153.93,316.80 L154.47,318.57 L155.01,320.21 L155.54,321.72 L156.08,323.09 L156.62,324.30 L157.15,325.35 L157.69,326.23 L158.23,326.93 L158.76,327.44 L159.30,327.76 L159.84,327.86 L160.37,327.74 L160.90,327.39 L161.44,326.82 L161.97,326.04 L162.50,325.08 L163.04,323.93 L163.57,322.62 L164.10,321.16 L164.64,319.56 L165.17,317.83 L165.70,315.99 L166.23,314.06 L166.77,312.04 L167.30,309.94 L167.83,307.79 L168.37,305.60 L168.90,303.37 L169.43,301.13 L169.97,298.88 L170.50,296.64 L170.98,294.68 L171.45,292.77 L171.93,290.93 L172.41,289.16 L172.88,287.46 L173.36,285.84 L173.84,284.30 L174.31,282.85 L174.79,281.48 L175.27,280.22 L175.74,279.05 L176.22,277.99 L176.70,277.03 L177.17,276.19 L177.65,275.47 L178.13,274.87 L178.61,274.39 L179.08,274.05 L179.56,273.84 L180.04,273.77 L180.50,273.85 L180.96,274.10 L181.43,274.50 L181.89,275.05 L182.35,275.74 L182.81,276.56 L183.28,277.49 L183.74,278.54 L184.20,279.69 L184.67,280.94 L185.13,282.27 L185.59,283.68 L186.06,285.15 L186.52,286.69 L186.98,288.27 L187.45,289.90 L187.91,291.56 L188.37,293.24 L188.84,294.94 L189.30,296.64 L189.83,298.57 L190.36,300.45 L190.88,302.28 L191.41,304.05 L191.94,305.77 L192.47,307.41 L192.99,308.99 L193.52,310.48 L194.05,311.89 L194.58,313.21 L195.10,314.43 L195.63,315.55 L196.16,316.55 L196.69,317.45 L197.21,318.22 L197.74,318.87 L198.27,319.38 L198.80,319.75 L199.32,319.98 L199.85,320.06 L200.37,319.97 L200.89,319.70 L201.40,319.27 L201.92,318.68 L202.44,317.95 L202.96,317.08 L203.47,316.09 L203.99,314.99 L204.51,313.78 L205.03,312.48 L205.54,311.10 L206.06,309.64 L206.58,308.13 L207.10,306.56 L207.61,304.95 L208.13,303.31 L208.65,301.65 L209.17,299.98 L209.68,298.30 L210.20,296.64 L210.69,295.09 L211.19,293.60 L211.68,292.15 L212.17,290.77 L212.66,289.44 L213.16,288.18 L213.65,286.99 L214.14,285.86 L214.63,284.81 L215.12,283.83 L215.62,282.93 L216.11,282.11 L216.60,281.38 L217.10,280.73 L217.59,280.18 L218.08,279.72 L218.57,279.36 L219.06,279.09 L219.56,278.93 L220.05,278.88 L220.54,278.95 L221.03,279.14 L221.51,279.45 L222.00,279.88 L222.49,280.41 L222.98,281.05 L223.46,281.77 L223.95,282.59 L224.44,283.48 L224.93,284.45 L225.41,285.48 L225.90,286.57 L226.39,287.72 L226.88,288.91 L227.36,290.14 L227.85,291.40 L228.34,292.69 L228.82,294.00 L229.31,295.32 L229.80,296.64 L230.32,298.06 L230.85,299.44 L231.37,300.78 L231.90,302.09 L232.42,303.35 L232.95,304.56 L233.47,305.72 L234.00,306.82 L234.52,307.85 L235.05,308.82 L235.57,309.72 L236.10,310.55 L236.62,311.29 L237.15,311.95 L237.67,312.51 L238.20,312.99 L238.72,313.37 L239.25,313.64 L239.77,313.81 L240.30,313.87 L240.80,313.80 L241.31,313.60 L241.81,313.29 L242.32,312.85 L242.82,312.32 L243.33,311.68 L243.83,310.95 L244.34,310.14 L244.84,309.25 L245.35,308.29 L245.85,307.28 L246.36,306.21 L246.86,305.09 L247.37,303.94 L247.87,302.75 L248.38,301.55 L248.88,300.32 L249.39,299.09 L249.89,297.86 L250.40,296.64 L250.90,295.47 L251.39,294.34 L251.89,293.24 L252.38,292.19 L252.88,291.19 L253.37,290.23 L253.87,289.33 L254.36,288.47 L254.86,287.68 L255.35,286.94 L255.85,286.25 L256.34,285.64 L256.84,285.08 L257.33,284.59 L257.83,284.17 L258.32,283.82 L258.82,283.55 L259.31,283.35 L259.81,283.23 L260.30,283.19 L260.78,283.24 L261.25,283.38 L261.73,283.62 L262.20,283.95 L262.68,284.35 L263.15,284.84 L263.63,285.39 L264.10,286.01 L264.58,286.69 L265.05,287.42 L265.53,288.21 L266.00,289.04 L266.48,289.90 L266.95,290.81 L267.43,291.74 L267.90,292.69 L268.38,293.67 L268.85,294.65 L269.33,295.65 L269.80,296.64 L270.33,297.73 L270.85,298.80 L271.38,299.83 L271.90,300.84 L272.43,301.81 L272.95,302.73 L273.48,303.62 L274.00,304.46 L274.53,305.25 L275.06,305.99 L275.58,306.68 L276.11,307.31 L276.63,307.87 L277.16,308.37 L277.68,308.80 L278.21,309.17 L278.73,309.45 L279.26,309.66 L279.78,309.79 L280.31,309.83 L280.79,309.78 L281.28,309.62 L281.76,309.37 L282.25,309.03 L282.73,308.61 L283.22,308.11 L283.70,307.55 L284.19,306.91 L284.67,306.22 L285.16,305.48 L285.64,304.70 L286.12,303.87 L286.61,303.01 L287.09,302.13 L287.58,301.23 L288.06,300.31 L288.55,299.39 L289.03,298.47 L289.52,297.55 L290.00,296.64 L290.53,295.69 L291.05,294.77 L291.58,293.89 L292.10,293.06 L292.63,292.26 L293.15,291.51 L293.68,290.81 L294.20,290.14 L294.73,289.53 L295.25,288.96 L295.78,288.44 L296.31,287.97 L296.83,287.55 L297.36,287.19 L297.88,286.87 L298.41,286.61 L298.93,286.41 L299.46,286.26 L299.98,286.18 L300.51,286.15 L301.01,286.19 L301.52,286.30 L302.02,286.49 L302.53,286.75 L303.03,287.07 L303.54,287.44 L304.04,287.88 L304.55,288.36 L305.05,288.90 L305.55,289.47 L306.06,290.08 L306.56,290.73 L307.07,291.41 L307.57,292.11 L308.08,292.84 L308.58,293.58 L309.09,294.34 L309.59,295.10 L310.10,295.87 L310.60,296.64 L311.11,297.41 L311.62,298.15 L312.12,298.88 L312.63,299.58 L313.14,300.25 L313.65,300.90 L314.15,301.51 L314.66,302.09 L315.17,302.64 L315.68,303.15 L316.19,303.63 L316.69,304.06 L317.20,304.45 L317.71,304.79 L318.22,305.09 L318.72,305.34 L319.23,305.53 L319.74,305.68 L320.25,305.76 L320.75,305.79 L321.22,305.76 L321.68,305.65 L322.14,305.48 L322.60,305.25 L323.07,304.97 L323.53,304.63 L323.99,304.24 L324.45,303.81 L324.92,303.34 L325.38,302.83 L325.84,302.29 L326.30,301.72 L326.76,301.13 L327.23,300.51 L327.69,299.89 L328.15,299.24 L328.61,298.60 L329.08,297.94 L329.54,297.29 L330.00,296.64 L330.53,295.91 L331.06,295.21 L331.59,294.53 L332.12,293.88 L332.65,293.26 L333.19,292.66 L333.72,292.10 L334.25,291.57 L334.78,291.08 L335.31,290.62 L335.84,290.20 L336.37,289.81 L336.90,289.47 L337.43,289.17 L337.96,288.91 L338.50,288.69 L339.03,288.52 L339.56,288.40 L340.09,288.32 L340.62,288.30 L341.10,288.33 L341.58,288.43 L342.06,288.59 L342.54,288.81 L343.01,289.08 L343.49,289.40 L343.97,289.77 L344.45,290.17 L344.93,290.62 L345.41,291.09 L345.89,291.59 L346.37,292.11 L346.85,292.66 L347.33,293.21 L347.80,293.78 L348.28,294.36 L348.76,294.94 L349.24,295.51 L349.72,296.08 L350.20,296.64 L350.75,297.26 L351.30,297.86 L351.85,298.42 L352.40,298.95 L352.95,299.46 L353.50,299.93 L354.05,300.38 L354.60,300.79 L355.15,301.18 L355.70,301.53 L356.25,301.85 L356.80,302.14 L357.35,302.39 L357.90,302.61 L358.45,302.80 L359.00,302.96 L359.55,303.08 L360.10,303.17 L360.65,303.22 L361.20,303.24 L361.65,303.21 L362.11,303.14 L362.57,303.02 L363.02,302.85 L363.48,302.65 L363.93,302.40 L364.39,302.12 L364.84,301.81 L365.30,301.47 L365.75,301.11 L366.21,300.72 L366.66,300.31 L367.12,299.88 L367.58,299.44 L368.03,298.99 L368.49,298.53 L368.94,298.06 L369.40,297.59 L369.85,297.11 L370.31,296.64 L370.83,296.12 L371.35,295.61 L371.86,295.12 L372.38,294.65 L372.90,294.20 L373.42,293.77 L373.94,293.36 L374.46,292.98 L374.98,292.62 L375.49,292.28 L376.01,291.98 L376.53,291.70 L377.05,291.45 L377.57,291.22 L378.09,291.03 L378.61,290.88 L379.13,290.75 L379.64,290.66 L380.16,290.61 L380.68,290.59 L381.21,290.61 L381.74,290.68 L382.27,290.79 L382.81,290.94 L383.34,291.13 L383.87,291.35 L384.40,291.60 L384.93,291.89 L385.46,292.20 L385.99,292.53 L386.52,292.89 L387.05,293.26 L387.59,293.65 L388.12,294.06 L388.65,294.48 L389.18,294.90 L389.71,295.33 L390.24,295.77 L390.77,296.21 L391.30,296.64 L391.77,297.02 L392.24,297.38 L392.70,297.74 L393.17,298.08 L393.64,298.40 L394.10,298.71 L394.57,299.01 L395.04,299.29 L395.51,299.55 L395.97,299.79 L396.44,300.01 L396.91,300.22 L397.37,300.40 L397.84,300.56 L398.31,300.70 L398.77,300.82 L399.24,300.91 L399.71,300.98 L400.17,301.02 L400.64,301.03 L401.13,301.01 L401.61,300.96 L402.10,300.88 L402.58,300.77 L403.07,300.64 L403.55,300.48 L404.04,300.29 L404.52,300.09 L405.01,299.86 L405.49,299.62 L405.98,299.36 L406.46,299.09 L406.95,298.81 L407.44,298.51 L407.92,298.21 L408.41,297.90 L408.89,297.59 L409.38,297.27 L409.86,296.96 L410.35,296.64 L410.91,296.28 L411.47,295.94 L412.04,295.60 L412.60,295.28 L413.16,294.97 L413.72,294.67 L414.29,294.39 L414.85,294.13 L415.41,293.88 L415.98,293.65 L416.54,293.44 L417.10,293.24 L417.66,293.07 L418.23,292.91 L418.79,292.78 L419.35,292.67 L419.91,292.59 L420.48,292.52 L421.04,292.48 L421.60,292.47 L422.13,292.49 L422.66,292.54 L423.19,292.62 L423.72,292.72 L424.25,292.86 L424.78,293.01 L425.30,293.19 L425.83,293.39 L426.36,293.61 L426.89,293.85 L427.42,294.10 L427.95,294.36 L428.48,294.63 L429.01,294.91 L429.53,295.19 L430.06,295.48 L430.59,295.77 L431.12,296.07 L431.65,296.36 L432.18,296.64 L432.66,296.90 L433.15,297.14 L433.63,297.38 L434.11,297.60 L434.60,297.81 L435.08,298.01 L435.56,298.20 L436.05,298.38 L436.53,298.54 L437.01,298.69 L437.50,298.83 L437.98,298.96 L438.46,299.07 L438.95,299.16 L439.43,299.25 L439.91,299.32 L440.40,299.37 L440.88,299.41 L441.37,299.43 L441.85,299.44 L442.32,299.43 L442.79,299.40 L443.25,299.35 L443.72,299.28 L444.19,299.19 L444.66,299.09 L445.13,298.97 L445.60,298.84 L446.07,298.69 L446.54,298.54 L447.00,298.37 L447.47,298.20 L447.94,298.02 L448.41,297.83 L448.88,297.64 L449.35,297.44 L449.82,297.24 L450.29,297.04 L450.75,296.84 L451.22,296.64 L451.77,296.42 L452.32,296.20 L452.87,295.98 L453.42,295.78 L453.96,295.58 L454.51,295.40 L455.06,295.22 L455.61,295.06 L456.16,294.90 L456.71,294.76 L457.26,294.63 L457.80,294.51 L458.35,294.40 L458.90,294.30 L459.45,294.22 L460.00,294.16 L460.55,294.10 L461.09,294.06 L461.64,294.04 L462.19,294.03 L462.77,294.04 L463.34,294.07 L463.92,294.12 L464.49,294.19 L465.07,294.28 L465.64,294.38 L466.22,294.49 L466.80,294.62 L467.37,294.76 L467.95,294.91 L468.52,295.06 L469.10,295.23 L469.67,295.40 L470.25,295.57 L470.83,295.75 L471.40,295.93 L471.98,296.11 L472.55,296.29 L473.13,296.47 L473.70,296.64 L474.16,296.78 L474.62,296.90 L475.07,297.02 L475.53,297.14 L475.98,297.24 L476.44,297.35 L476.89,297.44 L477.35,297.53 L477.81,297.61 L478.26,297.68 L478.72,297.75 L479.17,297.81 L479.63,297.86 L480.08,297.91 L480.54,297.95 L481.00,297.98 L481.45,298.01 L481.91,298.03 L482.36,298.04 L482.82,298.04 L483.28,298.04 L483.75,298.02 L484.21,298.00 L484.67,297.97 L485.14,297.93 L485.60,297.88 L486.07,297.83 L486.53,297.76 L486.99,297.69 L487.46,297.62 L487.92,297.54 L488.39,297.46 L488.85,297.37 L489.31,297.27 L489.78,297.17 L490.24,297.07 L490.71,296.97 L491.17,296.86 L491.63,296.75 L492.10,296.64 L492.68,296.50 L493.27,296.37 L493.85,296.23 L494.44,296.10 L495.02,295.97 L495.60,295.84 L496.19,295.72 L496.77,295.60 L497.36,295.49 L497.94,295.39 L498.52,295.29 L499.11,295.21 L499.69,295.12 L500.28,295.05 L500.86,294.99 L501.44,294.94 L502.03,294.90 L502.61,294.86 L503.20,294.85 L503.78,294.84 L504.46,294.85 L505.14,294.87 L505.82,294.90 L506.50,294.94 L507.18,295.00 L507.86,295.06 L508.54,295.14 L509.22,295.22 L509.89,295.32 L510.57,295.41 L511.25,295.52 L511.93,295.63 L512.61,295.75 L513.29,295.87 L513.97,295.99 L514.65,296.12 L515.33,296.25 L516.01,296.38 L516.69,296.51 L517.37,296.64 L517.68,296.70 L517.99,296.76 L518.30,296.82 L518.61,296.87 L518.92,296.92 L519.24,296.97 L519.55,297.02 L519.86,297.06 L520.17,297.10 L520.48,297.14 L520.79,297.18 L521.10,297.21 L521.42,297.24 L521.73,297.27 L522.04,297.29 L522.35,297.31 L522.66,297.32 L522.97,297.33 L523.29,297.34 L523.60,297.34 L524.21,297.34 L524.82,297.33 L525.43,297.32 L526.04,297.30 L526.65,297.27 L527.26,297.24 L527.87,297.20 L528.48,297.16 L529.09,297.12 L529.70,297.07 L530.31,297.01 L530.93,296.96 L531.54,296.90 L532.15,296.84 L532.76,296.78 L533.37,296.72 L533.98,296.66 L534.59,296.60 L535.20,296.54" stroke="#ff0000"/></g>
<g font-size="15"><text x="57.7" y="425.2" text-anchor="middle">0</text><text x="153.2" y="425.2" text-anchor="middle">20</text><text x="248.7" y="425.2" text-anchor="middle">40</text><text x="344.2" y="425.2" text-anchor="middle">60</text><text x="439.7" y="425.2" text-anchor="middle">80</text><text x="535.2" y="425.2" text-anchor="middle">100</text><text x="51.3" y="410.2" text-anchor="end">4</text><text x="42.3" y="410.9" text-anchor="end" font-size="18">−</text><text x="51.3" y="356.4" text-anchor="end">2</text><text x="42.3" y="357.1" text-anchor="end" font-size="18">−</text><text x="51.3" y="302.6" text-anchor="end">0</text><text x="51.3" y="248.8" text-anchor="end">2</text><text x="51.3" y="194.9" text-anchor="end">4</text><text x="51.3" y="141.1" text-anchor="end">6</text><text x="51.3" y="87.3" text-anchor="end">8</text><text x="51.3" y="33.5" text-anchor="end">10</text></g>
<text x="58.3" y="26.0" font-size="17">×</text><text x="68.3" y="23.9" font-size="15">10</text><text x="85.8" y="16.6" font-size="13.2">6</text>
<text transform="translate(17.4,240.4) rotate(-90)" font-size="16.5">K</text><text transform="translate(26.0,228.4) rotate(-90)" font-size="13.3">33</text><text transform="translate(17.6,206.7) rotate(-90)" font-size="16.7">(t)</text>
<text x="264.5" y="448.3" font-size="17" letter-spacing="0.3">Time (s)</text>
<!-- dashed box -->
<g stroke="#000" stroke-width="1.6" stroke-dasharray="5.5 4.8" fill="none">
<path d="M412,264.3 H534.6"/><path d="M534.6,334.6 H412"/><path d="M412,264.3 V334.6"/><path d="M534.6,264.3 V334.6"/></g>
<!-- arrow -->
<line x1="389" y1="230.4" x2="466" y2="255.2" stroke="#000" stroke-width="2.2"/>
<path d="M473,257.6 L464.3,258.6 L466.6,251.6 Z" fill="#000"/>
<!-- inset -->
<rect x="189.8" y="99.0" width="190.8" height="125.4" fill="#fff" stroke="none"/>
<g fill="none" stroke-width="1.5" stroke-linejoin="round" clip-path="url(#ci)"><path d="M188.34,207.26 L188.91,209.56 L189.48,211.59 L190.04,213.33 L190.61,214.78 L191.18,215.93 L191.75,216.76 L192.32,217.27 L192.88,217.44 L193.41,217.24 L193.94,216.63 L194.46,215.65 L194.99,214.32 L195.51,212.66 L196.04,210.68 L196.56,208.41 L197.09,205.87 L197.62,203.08 L198.14,200.07 L198.67,196.85 L199.19,193.45 L199.72,189.88 L200.25,186.17 L200.77,182.33 L201.30,178.40 L201.82,174.39 L202.35,170.32 L202.87,166.22 L203.40,162.10 L203.97,157.71 L204.53,153.41 L205.10,149.24 L205.67,145.18 L206.23,141.27 L206.80,137.52 L207.37,133.93 L207.93,130.52 L208.50,127.31 L209.06,124.30 L209.63,121.52 L210.20,118.97 L210.76,116.67 L211.33,114.64 L211.90,112.88 L212.46,111.41 L213.03,110.24 L213.60,109.39 L214.16,108.87 L214.73,108.69 L215.29,108.89 L215.85,109.46 L216.40,110.40 L216.96,111.67 L217.52,113.26 L218.08,115.15 L218.64,117.32 L219.20,119.75 L219.76,122.42 L220.31,125.31 L220.87,128.40 L221.43,131.68 L221.99,135.12 L222.55,138.70 L223.11,142.41 L223.67,146.22 L224.22,150.11 L224.78,154.07 L225.34,158.07 L225.90,162.10 L226.44,165.96 L226.98,169.74 L227.52,173.43 L228.06,177.02 L228.59,180.49 L229.13,183.83 L229.67,187.02 L230.21,190.07 L230.75,192.94 L231.29,195.63 L231.83,198.13 L232.37,200.42 L232.90,202.49 L233.44,204.32 L233.98,205.91 L234.52,207.24 L235.06,208.30 L235.60,209.07 L236.14,209.54 L236.68,209.70 L237.21,209.53 L237.75,209.01 L238.29,208.17 L238.82,207.03 L239.36,205.61 L239.89,203.91 L240.43,201.97 L240.97,199.79 L241.50,197.40 L242.04,194.82 L242.57,192.05 L243.11,189.13 L243.65,186.06 L244.18,182.87 L244.72,179.57 L245.26,176.18 L245.79,172.72 L246.33,169.21 L246.86,165.66 L247.40,162.10 L247.97,158.34 L248.54,154.65 L249.11,151.06 L249.69,147.58 L250.26,144.21 L250.83,140.98 L251.40,137.88 L251.97,134.94 L252.54,132.17 L253.12,129.57 L253.69,127.16 L254.26,124.96 L254.83,122.97 L255.40,121.21 L255.97,119.68 L256.54,118.40 L257.12,117.39 L257.69,116.65 L258.26,116.20 L258.83,116.05 L259.39,116.22 L259.96,116.72 L260.52,117.53 L261.08,118.64 L261.65,120.03 L262.21,121.67 L262.77,123.56 L263.34,125.67 L263.90,127.99 L264.47,130.49 L265.03,133.17 L265.59,136.01 L266.16,138.98 L266.72,142.06 L267.28,145.25 L267.85,148.53 L268.41,151.86 L268.97,155.25 L269.54,158.67 L270.10,162.10 L270.63,165.32 L271.17,168.46 L271.70,171.53 L272.24,174.50 L272.77,177.36 L273.30,180.12 L273.84,182.75 L274.37,185.25 L274.91,187.61 L275.44,189.81 L275.97,191.85 L276.51,193.72 L277.04,195.41 L277.57,196.90 L278.11,198.19 L278.64,199.27 L279.18,200.13 L279.71,200.75 L280.24,201.13 L280.78,201.26 L281.29,201.12 L281.81,200.68 L282.33,199.98 L282.84,199.03 L283.36,197.84 L283.87,196.42 L284.39,194.80 L284.91,192.99 L285.42,191.00 L285.94,188.86 L286.46,186.57 L286.97,184.15 L287.49,181.62 L288.00,179.00 L288.52,176.29 L289.04,173.52 L289.55,170.70 L290.07,167.85 L290.58,164.97 L291.10,162.10 L291.69,158.88 L292.27,155.74 L292.86,152.69 L293.45,149.74 L294.03,146.91 L294.62,144.19 L295.21,141.59 L295.79,139.14 L296.38,136.83 L296.96,134.67 L297.55,132.68 L298.14,130.86 L298.72,129.22 L299.31,127.77 L299.90,126.52 L300.48,125.48 L301.07,124.65 L301.66,124.05 L302.24,123.68 L302.83,123.55 L303.42,123.69 L304.01,124.10 L304.59,124.76 L305.18,125.65 L305.77,126.78 L306.36,128.12 L306.95,129.67 L307.54,131.40 L308.13,133.30 L308.71,135.37 L309.30,137.59 L309.89,139.94 L310.48,142.42 L311.07,145.01 L311.66,147.69 L312.25,150.46 L312.83,153.29 L313.42,156.19 L314.01,159.13 L314.60,162.10 L315.11,164.69 L315.63,167.23 L316.14,169.73 L316.66,172.16 L317.17,174.53 L317.68,176.81 L318.20,179.01 L318.71,181.10 L319.23,183.08 L319.74,184.94 L320.25,186.67 L320.77,188.27 L321.28,189.71 L321.80,190.99 L322.31,192.10 L322.82,193.03 L323.34,193.77 L323.85,194.32 L324.37,194.65 L324.88,194.76 L325.41,194.64 L325.94,194.28 L326.47,193.69 L327.00,192.89 L327.53,191.88 L328.07,190.70 L328.60,189.34 L329.13,187.82 L329.66,186.16 L330.19,184.37 L330.72,182.45 L331.25,180.43 L331.78,178.32 L332.31,176.13 L332.84,173.88 L333.38,171.57 L333.91,169.23 L334.44,166.86 L334.97,164.48 L335.50,162.10 L336.08,159.52 L336.67,157.01 L337.25,154.58 L337.84,152.23 L338.42,149.98 L339.01,147.82 L339.59,145.76 L340.17,143.82 L340.76,141.99 L341.34,140.28 L341.93,138.71 L342.51,137.27 L343.10,135.98 L343.68,134.84 L344.27,133.86 L344.85,133.03 L345.43,132.39 L346.02,131.91 L346.60,131.62 L347.19,131.53 L347.75,131.64 L348.31,131.98 L348.87,132.53 L349.43,133.27 L349.99,134.20 L350.55,135.30 L351.11,136.57 L351.67,137.98 L352.23,139.53 L352.79,141.20 L353.35,142.99 L353.91,144.87 L354.48,146.85 L355.04,148.90 L355.60,151.01 L356.16,153.18 L356.72,155.38 L357.28,157.61 L357.84,159.85 L358.40,162.10 L358.93,164.19 L359.46,166.23 L359.99,168.21 L360.52,170.13 L361.05,171.97 L361.57,173.74 L362.10,175.43 L362.63,177.03 L363.16,178.53 L363.69,179.93 L364.22,181.23 L364.75,182.42 L365.28,183.48 L365.81,184.43 L366.34,185.24 L366.86,185.92 L367.39,186.46 L367.92,186.86 L368.45,187.10 L368.98,187.18 L369.40,187.13 L369.81,187.01 L370.23,186.79 L370.65,186.50 L371.06,186.11 L371.48,185.65 L371.90,185.11 L372.31,184.49 L372.73,183.79 L373.15,183.02 L373.56,182.18 L373.98,181.27 L374.40,180.30 L374.81,179.27 L375.23,178.18 L375.65,177.03 L376.06,175.84 L376.48,174.60 L376.90,173.32" stroke="#1c8cf6"/><path d="M188.58,198.03 L189.14,198.36 L189.70,198.48 L190.22,198.34 L190.75,197.94 L191.27,197.30 L191.80,196.42 L192.32,195.32 L192.85,194.01 L193.37,192.52 L193.90,190.84 L194.42,189.01 L194.95,187.02 L195.47,184.90 L196.00,182.66 L196.52,180.32 L197.05,177.88 L197.57,175.36 L198.10,172.78 L198.62,170.15 L199.15,167.48 L199.67,164.79 L200.20,162.10 L200.74,159.37 L201.28,156.70 L201.82,154.10 L202.36,151.59 L202.89,149.16 L203.43,146.84 L203.97,144.61 L204.51,142.51 L205.05,140.52 L205.59,138.67 L206.13,136.95 L206.67,135.38 L207.20,133.96 L207.74,132.71 L208.28,131.62 L208.82,130.72 L209.36,130.00 L209.90,129.48 L210.44,129.16 L210.98,129.05 L211.54,129.18 L212.10,129.55 L212.66,130.15 L213.22,130.96 L213.78,131.98 L214.34,133.18 L214.90,134.56 L215.47,136.10 L216.03,137.79 L216.59,139.61 L217.15,141.55 L217.71,143.60 L218.27,145.73 L218.83,147.95 L219.39,150.23 L219.96,152.56 L220.52,154.92 L221.08,157.31 L221.64,159.71 L222.20,162.10 L222.74,164.35 L223.27,166.53 L223.81,168.65 L224.34,170.69 L224.88,172.65 L225.42,174.52 L225.95,176.30 L226.49,177.98 L227.03,179.56 L227.56,181.03 L228.10,182.39 L228.63,183.63 L229.17,184.74 L229.71,185.73 L230.24,186.57 L230.78,187.28 L231.32,187.83 L231.85,188.24 L232.39,188.49 L232.92,188.57 L233.45,188.47 L233.97,188.18 L234.50,187.70 L235.02,187.05 L235.54,186.24 L236.07,185.28 L236.59,184.18 L237.11,182.96 L237.64,181.61 L238.16,180.16 L238.69,178.61 L239.21,176.97 L239.73,175.26 L240.26,173.49 L240.78,171.66 L241.30,169.79 L241.83,167.89 L242.35,165.97 L242.88,164.03 L243.40,162.10 L243.97,160.04 L244.53,158.04 L245.10,156.10 L245.66,154.22 L246.23,152.42 L246.80,150.69 L247.36,149.05 L247.93,147.49 L248.49,146.03 L249.06,144.66 L249.63,143.40 L250.19,142.25 L250.76,141.21 L251.32,140.30 L251.89,139.51 L252.45,138.85 L253.02,138.33 L253.59,137.95 L254.15,137.72 L254.72,137.64 L255.29,137.74 L255.87,138.01 L256.44,138.46 L257.01,139.06 L257.59,139.82 L258.16,140.72 L258.74,141.74 L259.31,142.89 L259.89,144.14 L260.46,145.49 L261.03,146.93 L261.61,148.45 L262.18,150.03 L262.76,151.67 L263.33,153.35 L263.90,155.07 L264.48,156.82 L265.05,158.58 L265.63,160.34 L266.20,162.10 L266.72,163.67 L267.24,165.18 L267.76,166.65 L268.28,168.07 L268.80,169.42 L269.32,170.72 L269.85,171.94 L270.37,173.10 L270.89,174.19 L271.41,175.20 L271.93,176.14 L272.45,176.99 L272.97,177.75 L273.49,178.42 L274.01,179.00 L274.53,179.48 L275.05,179.86 L275.57,180.14 L276.09,180.31 L276.61,180.37 L277.14,180.30 L277.67,180.10 L278.20,179.77 L278.73,179.32 L279.26,178.76 L279.79,178.10 L280.32,177.35 L280.85,176.50 L281.38,175.57 L281.91,174.57 L282.44,173.50 L282.97,172.37 L283.50,171.19 L284.02,169.97 L284.55,168.71 L285.08,167.42 L285.61,166.10 L286.14,164.77 L286.67,163.44 L287.20,162.10 L287.78,160.66 L288.36,159.26 L288.94,157.89 L289.51,156.58 L290.09,155.31 L290.67,154.10 L291.25,152.94 L291.83,151.85 L292.41,150.82 L292.98,149.86 L293.56,148.97 L294.14,148.16 L294.72,147.44 L295.30,146.79 L295.88,146.23 L296.45,145.77 L297.03,145.40 L297.61,145.14 L298.19,144.97 L298.77,144.92 L299.42,144.98 L300.07,145.17 L300.72,145.47 L301.37,145.88 L302.03,146.40 L302.68,147.01 L303.33,147.71 L303.98,148.50 L304.63,149.36 L305.28,150.30 L305.94,151.29 L306.59,152.35 L307.24,153.46 L307.89,154.61 L308.54,155.80 L309.19,157.02 L309.85,158.27 L310.50,159.54 L311.15,160.82 L311.80,162.10 L312.26,163.01 L312.73,163.89 L313.19,164.76 L313.66,165.59 L314.12,166.40 L314.58,167.18 L315.05,167.92 L315.51,168.63 L315.97,169.30 L316.44,169.92 L316.90,170.50 L317.37,171.03 L317.83,171.51 L318.29,171.93 L318.76,172.30 L319.22,172.60 L319.68,172.85 L320.15,173.02 L320.61,173.13 L321.08,173.17 L321.62,173.13 L322.17,173.01 L322.71,172.81 L323.26,172.55 L323.81,172.21 L324.35,171.82 L324.90,171.36 L325.45,170.86 L325.99,170.30 L326.54,169.70 L327.08,169.05 L327.63,168.37 L328.18,167.66 L328.72,166.92 L329.27,166.15 L329.82,165.36 L330.36,164.56 L330.91,163.75 L331.45,162.93 L332.00,162.10 L332.59,161.21 L333.19,160.34 L333.78,159.49 L334.38,158.67 L334.97,157.88 L335.57,157.12 L336.16,156.39 L336.76,155.70 L337.35,155.04 L337.95,154.43 L338.54,153.87 L339.14,153.35 L339.73,152.89 L340.33,152.47 L340.92,152.11 L341.52,151.82 L342.11,151.58 L342.71,151.41 L343.30,151.30 L343.90,151.26 L344.57,151.31 L345.24,151.43 L345.91,151.63 L346.58,151.90 L347.25,152.23 L347.92,152.63 L348.59,153.09 L349.26,153.60 L349.93,154.15 L350.60,154.75 L351.27,155.39 L351.94,156.06 L352.61,156.77 L353.28,157.49 L353.95,158.24 L354.62,159.00 L355.29,159.77 L355.96,160.55 L356.63,161.33 L357.30,162.10 L357.77,162.63 L358.24,163.15 L358.71,163.65 L359.18,164.13 L359.65,164.59 L360.13,165.03 L360.60,165.45 L361.07,165.84 L361.54,166.21 L362.01,166.55 L362.48,166.87 L362.95,167.15 L363.42,167.41 L363.89,167.64 L364.36,167.83 L364.84,168.00 L365.31,168.12 L365.78,168.22 L366.25,168.27 L366.72,168.29 L367.25,168.28 L367.79,168.23 L368.33,168.16 L368.86,168.05 L369.40,167.92 L369.93,167.75 L370.47,167.56 L371.00,167.35 L371.54,167.11 L372.08,166.84 L372.61,166.55 L373.15,166.24 L373.68,165.92 L374.22,165.57 L374.75,165.21 L375.29,164.83 L375.82,164.45 L376.36,164.05 L376.90,163.65" stroke="#000000"/><path d="M188.41,180.86 L189.00,181.01 L189.59,181.06 L190.08,180.99 L190.57,180.77 L191.07,180.43 L191.56,179.95 L192.05,179.36 L192.54,178.66 L193.03,177.86 L193.52,176.97 L194.01,176.00 L194.50,174.94 L194.99,173.83 L195.48,172.65 L195.97,171.42 L196.46,170.15 L196.95,168.85 L197.44,167.52 L197.93,166.17 L198.42,164.81 L198.91,163.45 L199.40,162.10 L199.96,160.59 L200.52,159.13 L201.07,157.72 L201.63,156.37 L202.19,155.07 L202.75,153.83 L203.31,152.66 L203.87,151.56 L204.42,150.52 L204.98,149.56 L205.54,148.68 L206.10,147.87 L206.66,147.15 L207.22,146.52 L207.77,145.97 L208.33,145.52 L208.89,145.16 L209.45,144.90 L210.01,144.74 L210.57,144.69 L211.14,144.75 L211.71,144.95 L212.28,145.27 L212.85,145.70 L213.42,146.24 L214.00,146.87 L214.57,147.60 L215.14,148.42 L215.71,149.31 L216.28,150.27 L216.85,151.30 L217.43,152.38 L218.00,153.50 L218.57,154.67 L219.14,155.87 L219.71,157.10 L220.28,158.34 L220.86,159.59 L221.43,160.85 L222.00,162.10 L222.50,163.18 L223.01,164.23 L223.51,165.24 L224.01,166.22 L224.51,167.16 L225.02,168.05 L225.52,168.90 L226.02,169.70 L226.52,170.45 L227.03,171.15 L227.53,171.79 L228.03,172.38 L228.53,172.91 L229.04,173.37 L229.54,173.77 L230.04,174.11 L230.54,174.37 L231.05,174.56 L231.55,174.68 L232.05,174.72 L232.57,174.67 L233.10,174.53 L233.62,174.29 L234.14,173.98 L234.66,173.59 L235.19,173.13 L235.71,172.60 L236.23,172.01 L236.75,171.36 L237.28,170.66 L237.80,169.92 L238.32,169.14 L238.84,168.32 L239.37,167.48 L239.89,166.61 L240.41,165.72 L240.93,164.82 L241.46,163.91 L241.98,163.01 L242.50,162.10 L243.11,161.07 L243.71,160.07 L244.32,159.10 L244.92,158.18 L245.53,157.28 L246.13,156.43 L246.74,155.63 L247.35,154.87 L247.95,154.15 L248.56,153.49 L249.16,152.88 L249.77,152.32 L250.38,151.82 L250.98,151.38 L251.59,151.00 L252.19,150.68 L252.80,150.43 L253.40,150.25 L254.01,150.14 L254.62,150.10 L255.18,150.15 L255.75,150.29 L256.32,150.52 L256.89,150.83 L257.46,151.21 L258.03,151.67 L258.60,152.18 L259.17,152.76 L259.74,153.39 L260.31,154.06 L260.88,154.77 L261.45,155.52 L262.02,156.30 L262.58,157.11 L263.15,157.93 L263.72,158.76 L264.29,159.60 L264.86,160.44 L265.43,161.28 L266.00,162.10 L266.52,162.83 L267.04,163.54 L267.56,164.21 L268.08,164.85 L268.60,165.46 L269.12,166.03 L269.64,166.58 L270.16,167.08 L270.68,167.56 L271.20,167.99 L271.72,168.39 L272.25,168.75 L272.77,169.07 L273.29,169.35 L273.81,169.59 L274.33,169.79 L274.85,169.95 L275.37,170.06 L275.89,170.13 L276.41,170.15 L276.91,170.12 L277.42,170.03 L277.92,169.88 L278.43,169.68 L278.93,169.42 L279.44,169.13 L279.94,168.79 L280.45,168.41 L280.95,167.99 L281.45,167.55 L281.96,167.07 L282.46,166.57 L282.97,166.05 L283.47,165.51 L283.98,164.96 L284.48,164.39 L284.99,163.82 L285.49,163.25 L286.00,162.67 L286.50,162.10 L287.09,161.45 L287.68,160.81 L288.27,160.20 L288.86,159.62 L289.45,159.06 L290.04,158.52 L290.63,158.02 L291.22,157.54 L291.81,157.10 L292.40,156.68 L292.99,156.30 L293.58,155.96 L294.17,155.65 L294.76,155.38 L295.35,155.14 L295.94,154.95 L296.53,154.79 L297.12,154.68 L297.72,154.62 L298.31,154.59 L298.93,154.62 L299.54,154.71 L300.16,154.86 L300.78,155.06 L301.40,155.30 L302.02,155.59 L302.64,155.92 L303.26,156.29 L303.88,156.68 L304.50,157.11 L305.12,157.56 L305.74,158.03 L306.36,158.52 L306.98,159.02 L307.60,159.54 L308.22,160.05 L308.84,160.57 L309.46,161.09 L310.08,161.60 L310.70,162.10 L311.19,162.48 L311.68,162.85 L312.17,163.19 L312.66,163.52 L313.15,163.83 L313.64,164.12 L314.13,164.39 L314.62,164.64 L315.11,164.88 L315.61,165.09 L316.10,165.29 L316.59,165.46 L317.08,165.61 L317.57,165.75 L318.06,165.86 L318.55,165.96 L319.04,166.03 L319.53,166.08 L320.02,166.11 L320.51,166.12 L321.01,166.11 L321.51,166.07 L322.01,166.00 L322.51,165.91 L323.01,165.80 L323.51,165.66 L324.01,165.50 L324.51,165.32 L325.01,165.13 L325.51,164.91 L326.00,164.68 L326.50,164.44 L327.00,164.18 L327.50,163.91 L328.00,163.63 L328.50,163.34 L329.00,163.04 L329.50,162.73 L330.00,162.42 L330.50,162.10 L331.13,161.70 L331.76,161.30 L332.39,160.91 L333.01,160.53 L333.64,160.16 L334.27,159.80 L334.90,159.45 L335.53,159.12 L336.16,158.80 L336.79,158.50 L337.42,158.22 L338.04,157.97 L338.67,157.73 L339.30,157.53 L339.93,157.35 L340.56,157.20 L341.19,157.08 L341.82,156.99 L342.45,156.93 L343.07,156.91 L343.81,156.93 L344.54,156.99 L345.27,157.09 L346.00,157.21 L346.73,157.37 L347.46,157.56 L348.19,157.78 L348.92,158.02 L349.66,158.28 L350.39,158.57 L351.12,158.87 L351.85,159.19 L352.58,159.53 L353.31,159.87 L354.04,160.23 L354.77,160.60 L355.51,160.97 L356.24,161.35 L356.97,161.72 L357.70,162.10 L358.04,162.27 L358.37,162.44 L358.71,162.60 L359.04,162.75 L359.38,162.90 L359.71,163.04 L360.05,163.18 L360.38,163.30 L360.72,163.43 L361.05,163.54 L361.39,163.64 L361.72,163.74 L362.06,163.82 L362.39,163.89 L362.73,163.96 L363.06,164.01 L363.40,164.06 L363.74,164.09 L364.07,164.11 L364.41,164.11 L365.06,164.10 L365.72,164.08 L366.38,164.04 L367.04,163.98 L367.69,163.90 L368.35,163.81 L369.01,163.71 L369.66,163.59 L370.32,163.46 L370.98,163.32 L371.64,163.17 L372.29,163.01 L372.95,162.84 L373.61,162.67 L374.27,162.49 L374.92,162.32 L375.58,162.14 L376.24,161.96 L376.90,161.79" stroke="#ff0000"/></g>
<rect x="189.8" y="99.0" width="190.8" height="125.4" fill="none" stroke="#404040" stroke-width="1.4"/>
<!-- legend -->
<rect x="410.3" y="38.9" width="113.3" height="57.35" fill="#fff" stroke="#707070" stroke-width="1.3"/>
<g stroke-width="2"><line x1="415.2" y1="49.3" x2="458.6" y2="49.3" stroke="#1c8cf6"/>
<line x1="415.2" y1="67.6" x2="458.6" y2="67.6" stroke="#000"/>
<line x1="415.2" y1="86.0" x2="458.6" y2="86.0" stroke="#ff0000"/></g>
<text x="462.9" y="54.7" font-family="Liberation Serif, serif" font-style="italic" font-size="14">α</text><text x="475.0" y="54.2" font-size="12.2">=</text><text x="485.6" y="54.7" font-size="13.5">0</text><text x="462.9" y="72.5" font-family="Liberation Serif, serif" font-style="italic" font-size="14">α</text><text x="475.0" y="72.0" font-size="12.2">=</text><text x="485.6" y="72.5" font-size="13.5">0.025</text><text x="462.9" y="90.3" font-family="Liberation Serif, serif" font-style="italic" font-size="14">α</text><text x="475.0" y="89.8" font-size="12.2">=</text><text x="485.6" y="90.3" font-size="13.5">0.05</text>
</svg>
</body></html>
